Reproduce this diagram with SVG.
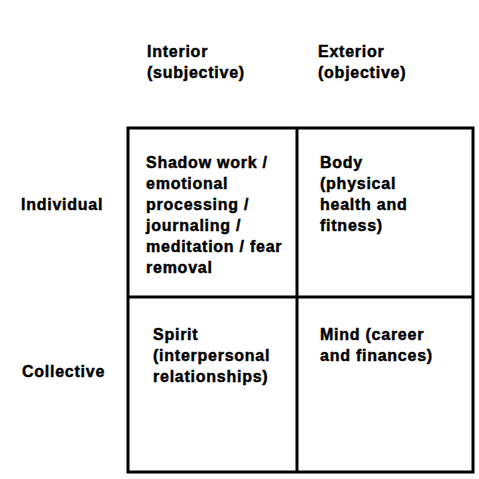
<svg xmlns="http://www.w3.org/2000/svg" width="479" height="479" viewBox="0 0 479 479">
<style>
text{font-family:"Liberation Sans",Arial,sans-serif;font-weight:bold;font-size:16px;letter-spacing:0.75px;fill:#000;stroke:#000;stroke-width:0.45}
.grid{fill:none;stroke:#000;stroke-width:3}
</style>
<rect width="479" height="479" fill="#fff"/>
<g id="headers">
<text x="147" y="57">Interior</text>
<text x="147" y="78">(subjective)</text>
<text x="318" y="57">Exterior</text>
<text x="318" y="78">(objective)</text>
<text x="21" y="210">Individual</text>
<text x="22" y="377">Collective</text>
</g>
<g id="connectors">
<rect class="grid" x="128" y="128" width="345" height="344"/>
<line class="grid" x1="297" y1="128" x2="297" y2="472"/>
<line class="grid" x1="128" y1="297" x2="473" y2="297"/>
</g>
<g id="q1">
<text x="146" y="168">Shadow work /</text>
<text x="146" y="189">emotional</text>
<text x="146" y="210">processing /</text>
<text x="146" y="231">journaling /</text>
<text x="146" y="252">meditation / fear</text>
<text x="146" y="273">removal</text>
</g>
<g id="q2">
<text x="320" y="168">Body</text>
<text x="320" y="189">(physical</text>
<text x="320" y="210">health and</text>
<text x="320" y="231">fitness)</text>
</g>
<g id="q3">
<text x="153" y="340">Spirit</text>
<text x="153" y="361">(interpersonal</text>
<text x="153" y="382">relationships)</text>
</g>
<g id="q4">
<text x="320" y="340">Mind (career</text>
<text x="320" y="361">and finances)</text>
</g>
</svg>
